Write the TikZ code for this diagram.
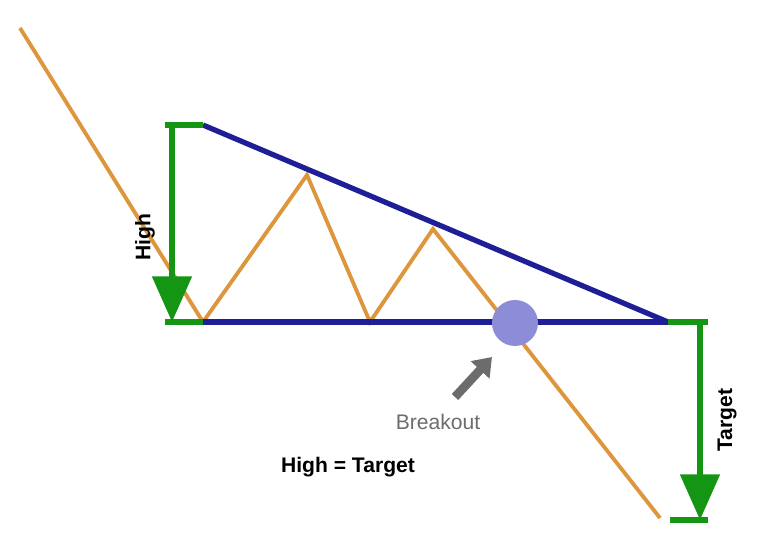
\documentclass[tikz,border=0pt]{standalone}
\usepackage{fontspec}
\setmainfont{Liberation Sans}
\usetikzlibrary{arrows.meta}
\definecolor{trend}{RGB}{222,150,60}
\definecolor{band}{RGB}{30,30,150}
\definecolor{meas}{RGB}{20,150,20}
\definecolor{dot}{RGB}{140,140,215}
\begin{document}
\begin{tikzpicture}[x=0.02cm,y=-0.02cm,
    price/.style={trend,line width=2.2pt},
    bound/.style={band,line width=3pt},
    measure/.style={meas,line width=3.5pt},
    gauge/.style={meas,line width=3.5pt,-{Triangle[length=26pt,width=22pt]}},
    caption/.style={font=\bfseries\large}]
  \useasboundingbox (0,0) rectangle (768,557);
  % price path
  \coordinate (p0) at (20,28);
  \coordinate (p1) at (203,322);
  \coordinate (p2) at (307,175);
  \coordinate (p3) at (370,322);
  \coordinate (p4) at (433,229);
  \coordinate (p5) at (660,518);
  \draw[price] (p0) -- (p1) -- (p2) -- (p3) -- (p4) -- (p5);
  % triangle bounds
  \coordinate (top) at (203,125);
  \coordinate (apex) at (668,322);
  \draw[bound] (top) -- (apex);
  \draw[bound] (p1) -- (apex);
  % height on the left
  \coordinate (hl) at (165,125);
  \coordinate (bl) at (165,322);
  \draw[measure] (hl) -- (top);
  \draw[measure] (bl) -- (p1);
  \coordinate (ha) at (172,125);
  \coordinate (hb) at (172,322);
  \draw[gauge] (ha) -- (hb);
  \node[caption,rotate=90] (high) at (145,237) {High};
  % target on the right
  \coordinate (tr) at (708,322);
  \coordinate (tl) at (670,520);
  \coordinate (tre) at (708,520);
  \draw[measure] (apex) -- (tr);
  \draw[measure] (tl) -- (tre);
  \coordinate (ta) at (700,322);
  \coordinate (tb) at (700,520);
  \draw[gauge] (ta) -- (tb);
  \node[caption,rotate=90] (target) at (727,420) {Target};
  % breakout
  \node[circle,fill=dot,minimum size=0.92cm,inner sep=0pt] (brk) at (515,323) {};
  \coordinate (ptr) at (492,357);
  \coordinate (tail) at (455,397);
  \draw[gray!85!black,line width=5pt,-{Triangle[length=10pt,width=14pt]}] (tail) -- (ptr);
  \node[gray!85!black,font=\large] (brklabel) at (438,422) {Breakout};
  \node[caption] (rule) at (348,467) {High = Target};
\end{tikzpicture}
\end{document}
